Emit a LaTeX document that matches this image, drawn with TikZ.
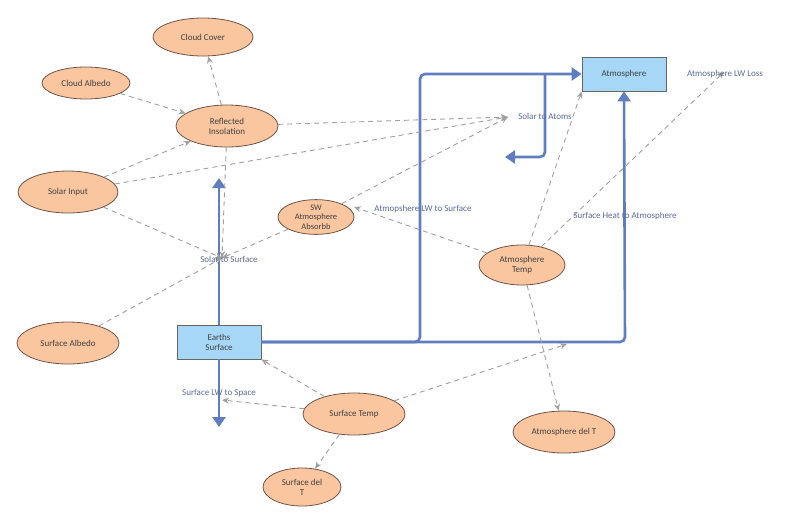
\documentclass[tikz,border=0pt]{standalone}
\usepackage{fontspec}
\setmainfont{Carlito}
\usetikzlibrary{shapes.geometric,arrows.meta}
\definecolor{ell}{HTML}{FAC6A0}
\definecolor{ellb}{HTML}{6E5448}
\definecolor{stk}{HTML}{A7D7F7}
\definecolor{flow}{HTML}{5F7DBF}
\definecolor{lab}{HTML}{5A6A9A}
\definecolor{con}{HTML}{A0A0A0}
\begin{document}
\begin{tikzpicture}[x=1pt,y=-1pt,font=\fontsize{9}{10}\selectfont,
 aux/.style={ellipse,draw=ellb,fill=ell,line width=0.8pt,inner sep=0pt,align=center,text=black!75},
 stock/.style={rectangle,draw=black!60,fill=stk,line width=0.8pt,minimum width=84pt,minimum height=34pt,align=center,inner sep=1pt,text=black!75},
 fl/.style={draw=flow,line width=2.6pt,rounded corners=5pt},
 fla/.style={fl,-{Triangle[length=10pt,width=13pt]}},
 vl/.style={text=lab,inner sep=1pt},
 cn/.style={draw=con,dashed,line width=0.9pt,dash pattern=on 5pt off 4pt,-{Stealth[length=7pt,width=6pt]}}]
\useasboundingbox (0,0) rectangle (800,512);
% auxiliaries
\node[aux,minimum width=100pt,minimum height=38pt] (cc) at (203,37) {Cloud Cover};
\node[aux,minimum width=88pt,minimum height=32pt] (ca) at (86,83) {Cloud Albedo};
\node[aux,minimum width=102pt,minimum height=42pt] (ri) at (227,126) {Reflected\\Insolation};
\node[aux,minimum width=100pt,minimum height=42pt] (si) at (68,192) {Solar Input};
\node[aux,minimum width=76pt,minimum height=34pt,font=\fontsize{8.5}{9.5}\selectfont] (sw) at (316,217) {SW\\Atmosphere\\Absorbb};
\node[aux,minimum width=102pt,minimum height=42pt] (sa) at (68,343) {Surface Albedo};
\node[aux,minimum width=102pt,minimum height=42pt] (st) at (354,414) {Surface Temp};
\node[aux,minimum width=78pt,minimum height=38pt] (sd) at (302,487) {Surface del\\T};
\node[aux,minimum width=86pt,minimum height=40pt] (at) at (522,265) {Atmosphere\\Temp};
\node[aux,minimum width=102pt,minimum height=42pt] (ad) at (564,432) {Atmosphere del T};
% stocks
\node[stock] (es) at (219,342) {Earths\\Surface};
\node[stock] (atm) at (624,74) {Atmosphere};
% flow valves
\coordinate (sts) at (222,258);
\coordinate (lws) at (222,400);
\coordinate (sat) at (508,117);
\coordinate (alw) at (354,207);
\coordinate (sha) at (567,344);
\coordinate (all) at (724,72);
\coordinate (tip1) at (219,178);
\coordinate (tip2) at (219,427);
\coordinate (tip3) at (505,157);
% flows
\draw[fla] (es.north) -- (tip1);
\draw[fla] (es.south) -- (tip2);
\draw[fla] (es.east) -| (420,74) -- (atm.west);
\draw[fla] (545,74) -- (545,157) -- (tip3);
\draw[fla] (es.east) -- (625,342) -- (atm.south);
% connectors
\draw[cn] (ca) -- (ri);
\draw[cn] (ri) -- (cc);
\draw[cn] (si) -- (ri);
\draw[cn] (ri) -- (sat);
\draw[cn] (si) -- (sat);
\draw[cn] (sw) -- (sat);
\draw[cn] (ri) -- (sts);
\draw[cn] (si) -- (sts);
\draw[cn] (sw) -- (sts);
\draw[cn] (sa) -- (sts);
\draw[cn] (at) -- (alw);
\draw[cn] (at) -- (atm.south west);
\draw[cn] (at) -- (all);
\draw[cn] (at) -- (ad);
\draw[cn] (st) -- (es.south east);
\draw[cn] (st) -- (lws);
\draw[cn] (st) -- (sd);
\draw[cn] (st) -- (sha);
% flow labels
\node[vl,fill=white,fill opacity=0,text opacity=1] at (229,259) {Solar to Surface};
\node[vl] at (219,393) {Surface LW to Space};
\node[vl] at (423,209) {Atmopshere LW to Surface};
\node[vl] at (545,116) {Solar to Atoms};
\node[vl] at (625,216) {Surface Heat to Atmosphere};
\node[vl] at (725,74) {Atmosphere LW Loss};
\end{tikzpicture}
\end{document}
